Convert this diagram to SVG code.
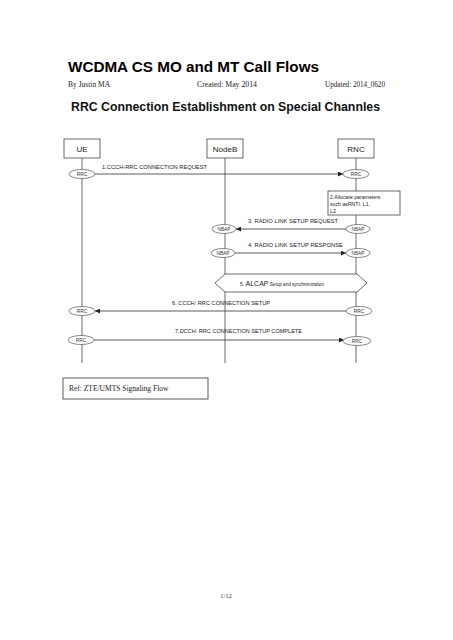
<svg xmlns="http://www.w3.org/2000/svg" width="453" height="640" viewBox="0 0 453 640">
<defs>
<marker id="ah" viewBox="0 0 10 10" refX="10" refY="5" markerWidth="5" markerHeight="5" orient="auto" markerUnits="userSpaceOnUse">
<path d="M0,0 L10,5 L0,10 z" fill="#222"/>
</marker>
<style>
.sans{font-family:"Liberation Sans",Arial,sans-serif;}
.serif{font-family:"Liberation Serif","Times New Roman",serif;}
.box{fill:#fff;stroke:#444;stroke-width:0.8;}
.life{stroke:#444;stroke-width:0.8;fill:none;}
.ell{fill:#fff;stroke:#555;stroke-width:0.7;}
.msg{stroke:#333;stroke-width:0.8;fill:none;marker-end:url(#ah);}
.lbl{font-family:"Liberation Sans",Arial,sans-serif;font-size:5.2px;fill:#222;}
.elbl{font-family:"Liberation Sans",Arial,sans-serif;font-size:4.8px;fill:#333;text-anchor:middle;}
.node{font-family:"Liberation Sans",Arial,sans-serif;font-size:8px;fill:#222;text-anchor:middle;}
</style>
</defs>
<rect width="453" height="640" fill="#fff"/>

<text class="sans" x="68" y="72" font-size="14.5" font-weight="bold" textLength="251" lengthAdjust="spacingAndGlyphs" fill="#000">WCDMA CS MO and MT Call Flows</text>
<text class="serif" x="68" y="87" font-size="7.5" fill="#222">By Justin MA</text>
<text class="serif" x="197" y="87" font-size="7.5" fill="#222" textLength="60" lengthAdjust="spacingAndGlyphs">Created: May 2014</text>
<text class="serif" x="325" y="87" font-size="7.5" fill="#222" textLength="60" lengthAdjust="spacingAndGlyphs">Updated: 2014_0620</text>
<text class="sans" x="71" y="111" font-size="12.5" font-weight="bold" textLength="309" lengthAdjust="spacingAndGlyphs" fill="#111">RRC Connection Establishment on Special Channles</text>

<g id="lifelines">
<line class="life" x1="82" y1="158" x2="82" y2="363"/>
<line class="life" x1="225" y1="158" x2="225" y2="363"/>
<line class="life" x1="356" y1="158" x2="356" y2="363"/>
</g>

<g id="ue">
<rect class="box" x="64" y="139" width="36" height="19"/>
<text class="node" x="82" y="151.5">UE</text>
</g>
<g id="nodeb">
<rect class="box" x="207" y="139" width="36" height="19"/>
<text class="node" x="225" y="151.5">NodeB</text>
</g>
<g id="rnc">
<rect class="box" x="338" y="139" width="36" height="19"/>
<text class="node" x="356" y="151.5">RNC</text>
</g>

<g id="allocate">
<rect class="box" x="328" y="191" width="72" height="24"/>
<text class="lbl" x="330" y="199">2.Allocate parameters</text>
<text class="lbl" x="330" y="206">such asRNTI,  L1,</text>
<text class="lbl" x="330" y="213">L2</text>
</g>

<g id="alcap">
<polygon class="box" points="215,283 225,274 357,274 367,283 357,292 225,292"/>
<text class="lbl" x="240" y="286"><tspan font-size="5">5. </tspan><tspan font-size="7">ALCAP</tspan><tspan font-size="4.6"> Setup and synchronization</tspan></text>
</g>

<g id="connectors">
<line class="msg" x1="95" y1="174" x2="343" y2="174"/>
<line class="msg" x1="346" y1="229" x2="236" y2="229"/>
<line class="msg" x1="235" y1="253" x2="346" y2="253"/>
<line class="msg" x1="346" y1="311" x2="95" y2="311"/>
<line class="msg" x1="94" y1="340" x2="344" y2="340"/>
</g>

<g id="labels">
<text class="lbl" x="102" y="169" textLength="105" lengthAdjust="spacingAndGlyphs">1.CCCH-RRC CONNECTION REQUEST</text>
<text class="lbl" x="248" y="223" textLength="90" lengthAdjust="spacingAndGlyphs">3.  RADIO LINK SETUP REQUEST</text>
<text class="lbl" x="248" y="247" textLength="95" lengthAdjust="spacingAndGlyphs">4.  RADIO LINK SETUP RESPONSE</text>
<text class="lbl" x="172" y="305" textLength="98" lengthAdjust="spacingAndGlyphs">6. <tspan font-style="italic">CCCH:</tspan> RRC CONNECTION SETUP</text>
<text class="lbl" x="175" y="333" textLength="127" lengthAdjust="spacingAndGlyphs">7.<tspan font-style="italic">DCCH:</tspan> RRC CONNECTION SETUP COMPLETE</text>
</g>

<g id="ue-rrc1"><ellipse class="ell" cx="82" cy="174" rx="13" ry="4.5"/><text class="elbl" x="82" y="175.7">RRC</text></g>
<g id="rnc-rrc1"><ellipse class="ell" cx="356" cy="174" rx="13" ry="4.5"/><text class="elbl" x="356" y="175.7">RRC</text></g>
<g id="nodeb-nbap1"><ellipse class="ell" cx="224" cy="229" rx="12" ry="4.5"/><text class="elbl" x="224" y="230.7">NBAP</text></g>
<g id="rnc-nbap1"><ellipse class="ell" cx="358" cy="229" rx="12" ry="4.5"/><text class="elbl" x="358" y="230.7">NBAP</text></g>
<g id="nodeb-nbap2"><ellipse class="ell" cx="223" cy="253" rx="12" ry="4.5"/><text class="elbl" x="223" y="254.7">NBAP</text></g>
<g id="rnc-nbap2"><ellipse class="ell" cx="358" cy="253" rx="12" ry="4.5"/><text class="elbl" x="358" y="254.7">NBAP</text></g>
<g id="ue-rrc2"><ellipse class="ell" cx="82" cy="311" rx="13" ry="4.5"/><text class="elbl" x="82" y="312.7">RRC</text></g>
<g id="rnc-rrc2"><ellipse class="ell" cx="359" cy="311" rx="13" ry="4.5"/><text class="elbl" x="359" y="312.7">RRC</text></g>
<g id="ue-rrc3"><ellipse class="ell" cx="81" cy="340" rx="13" ry="4.5"/><text class="elbl" x="81" y="341.7">RRC</text></g>
<g id="rnc-rrc3"><ellipse class="ell" cx="357" cy="341" rx="14" ry="4.5"/><text class="elbl" x="357" y="342.7">RRC</text></g>

<g id="ref">
<rect x="63" y="378" width="145" height="21" fill="#fff" stroke="#333" stroke-width="0.8"/>
<text class="serif" x="69" y="391" font-size="7.5" fill="#222">Ref: ZTE/UMTS Signaling Flow</text>
</g>

<text class="serif" x="226" y="598" font-size="6.5" fill="#333" text-anchor="middle">1/12</text>
</svg>
